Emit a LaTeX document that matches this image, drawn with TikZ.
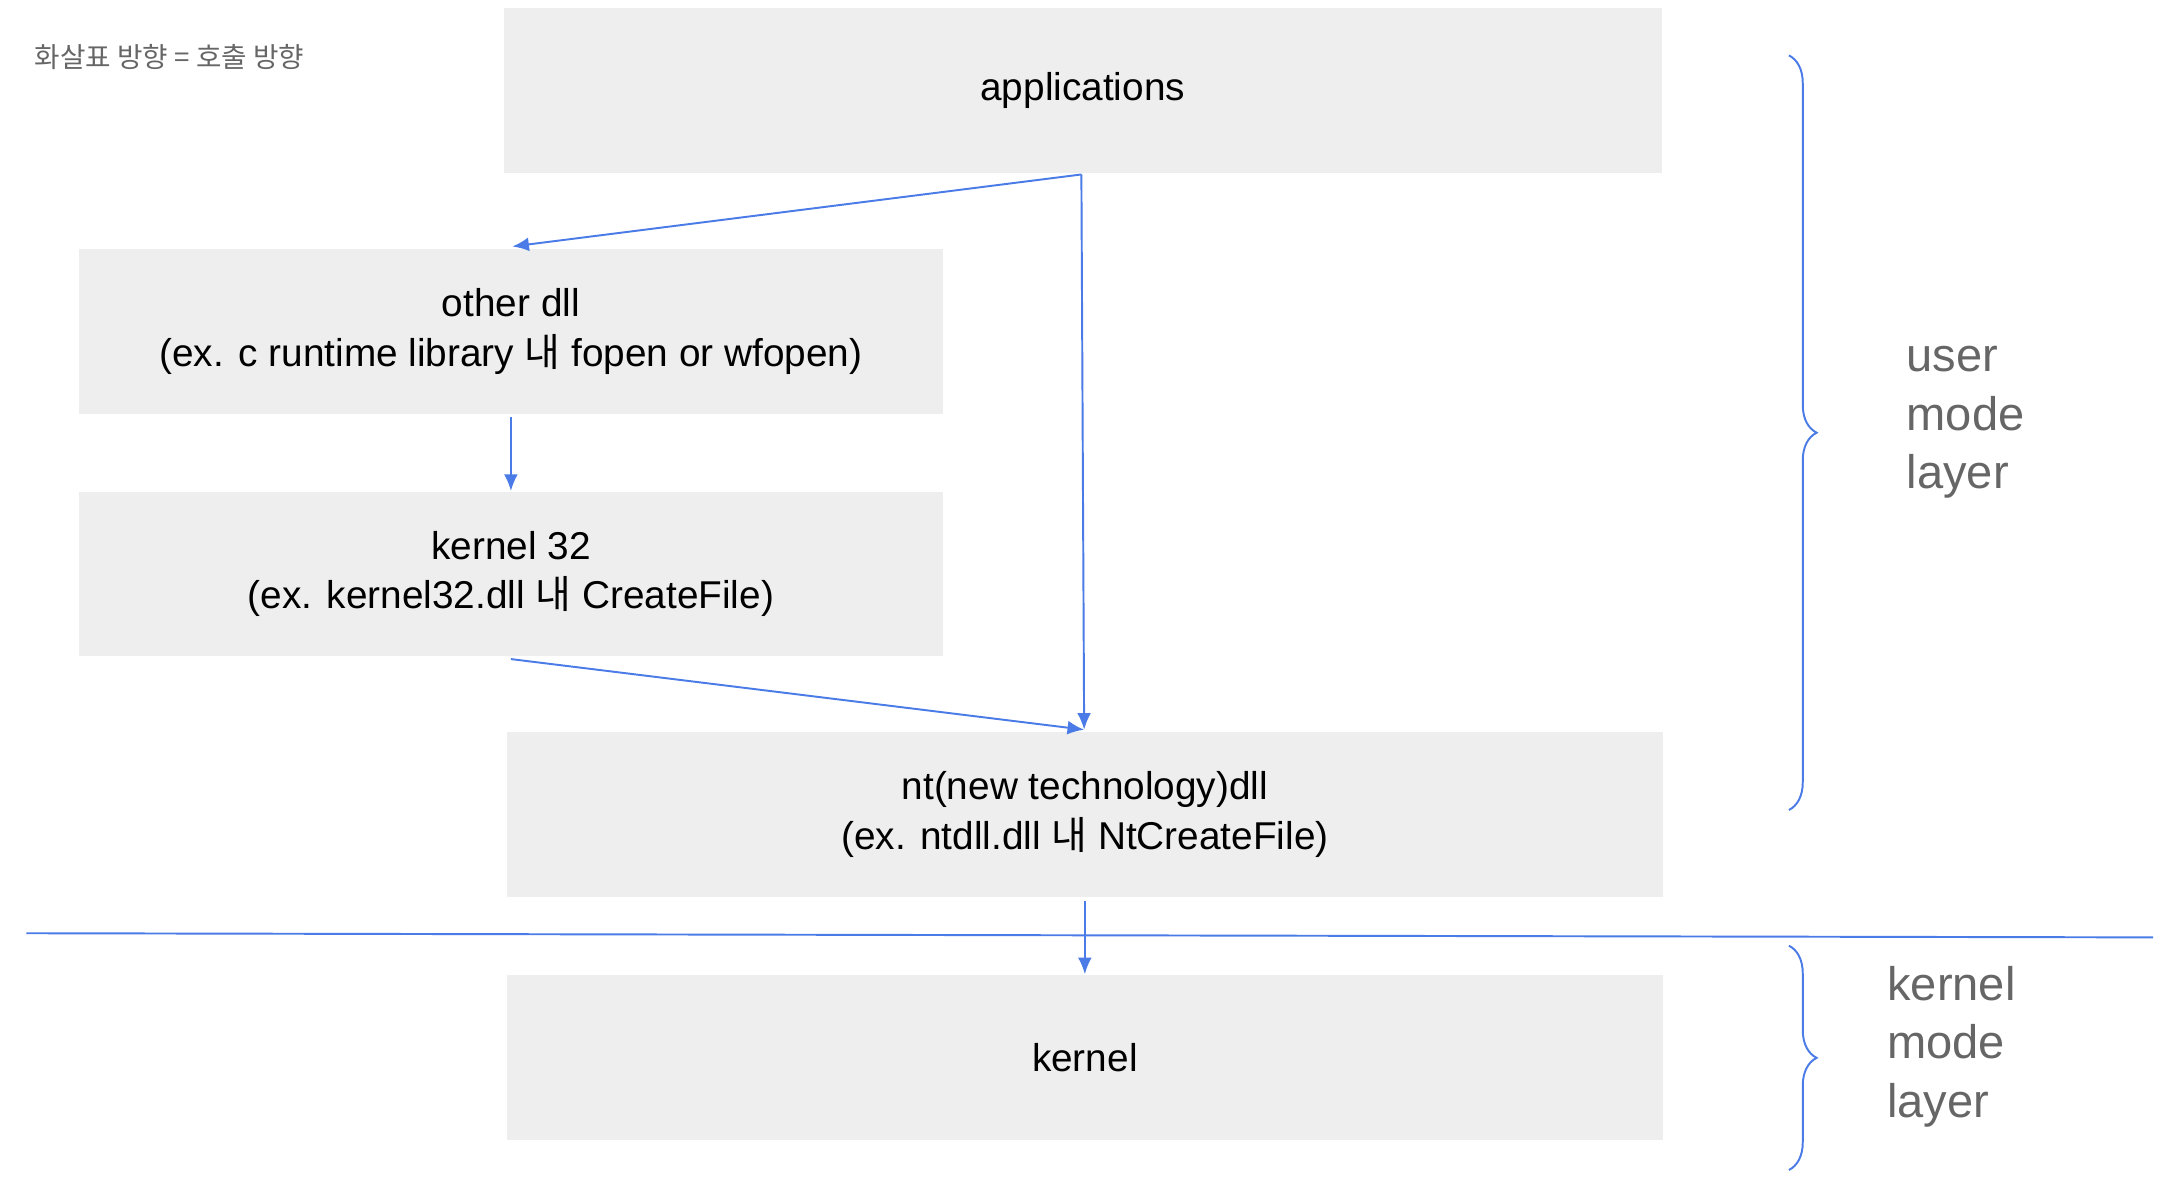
\documentclass[tikz,border=0pt]{standalone}
\usepackage{fontspec}
\setmainfont{Liberation Sans}
\newfontfamily\kr{Noto Sans CJK KR}
\usetikzlibrary{decorations.pathreplacing,arrows.meta}
\definecolor{boxg}{HTML}{EEEEEE}
\definecolor{arr}{HTML}{4A7BE6}
\definecolor{txtg}{HTML}{666666}
\begin{document}
\begin{tikzpicture}[x=0.5pt,y=-0.5pt,
  box/.style={fill=boxg,draw=none,align=center,inner sep=0pt,font=\fontsize{14}{18}\selectfont},
  conn/.style={draw=arr,line width=0.7pt,-{Latex[length=6pt,width=5pt]}},
  brc/.style={draw=arr,line width=0.7pt,decorate,decoration={brace,amplitude=10pt}},
  lay/.style={text=txtg,align=left,anchor=west,font=\fontsize{17}{21}\selectfont}]
\useasboundingbox (0,0) rectangle (1560,862);
\node[box,minimum width=418pt,minimum height=59.5pt] (app) at (782,65.5) {applications};
\node[box,minimum width=312pt,minimum height=59.5pt] (odll) at (369,239.5) {other dll\\(ex. c runtime library {\kr 내} fopen or wfopen)};
\node[box,minimum width=312pt,minimum height=59.5pt] (k32) at (369,414.5) {kernel 32\\(ex. kernel32.dll {\kr 내} CreateFile)};
\node[box,minimum width=417.5pt,minimum height=59.5pt] (nt) at (783.5,588.5) {nt(new technology)dll\\(ex. ntdll.dll {\kr 내} NtCreateFile)};
\node[box,minimum width=417.5pt,minimum height=59.5pt] (ker) at (783.5,763.5) {kernel};
\node[text=txtg,anchor=west,font=\fontsize{10}{12}\selectfont\kr] (note) at (18,41) {화살표 방향 = 호출 방향};
\coordinate (ls) at (19,674);
\coordinate (le) at (1555,677);
\draw[draw=arr,line width=0.7pt] (ls) -- (le);
\draw[conn] (781,126) -- (370,178);
\draw[conn] (781,126) -- (783,527);
\draw[conn] (odll.south) ++(0,2) -- (k32.north);
\draw[conn] (369,476) -- (783,527);
\draw[conn] (nt.south) ++(0,2) -- (ker.north);
\coordinate (b1) at (1292,40);
\coordinate (b2) at (1292,585);
\coordinate (b3) at (1292,683);
\coordinate (b4) at (1292,845);
\draw[brc] (b1) -- (b2);
\draw[brc] (b3) -- (b4);
\node[lay] (ul) at (1370,305) {user\\mode\\layer};
\node[lay] (kl) at (1356,756) {kernel\\mode\\layer};
\end{tikzpicture}
\end{document}
